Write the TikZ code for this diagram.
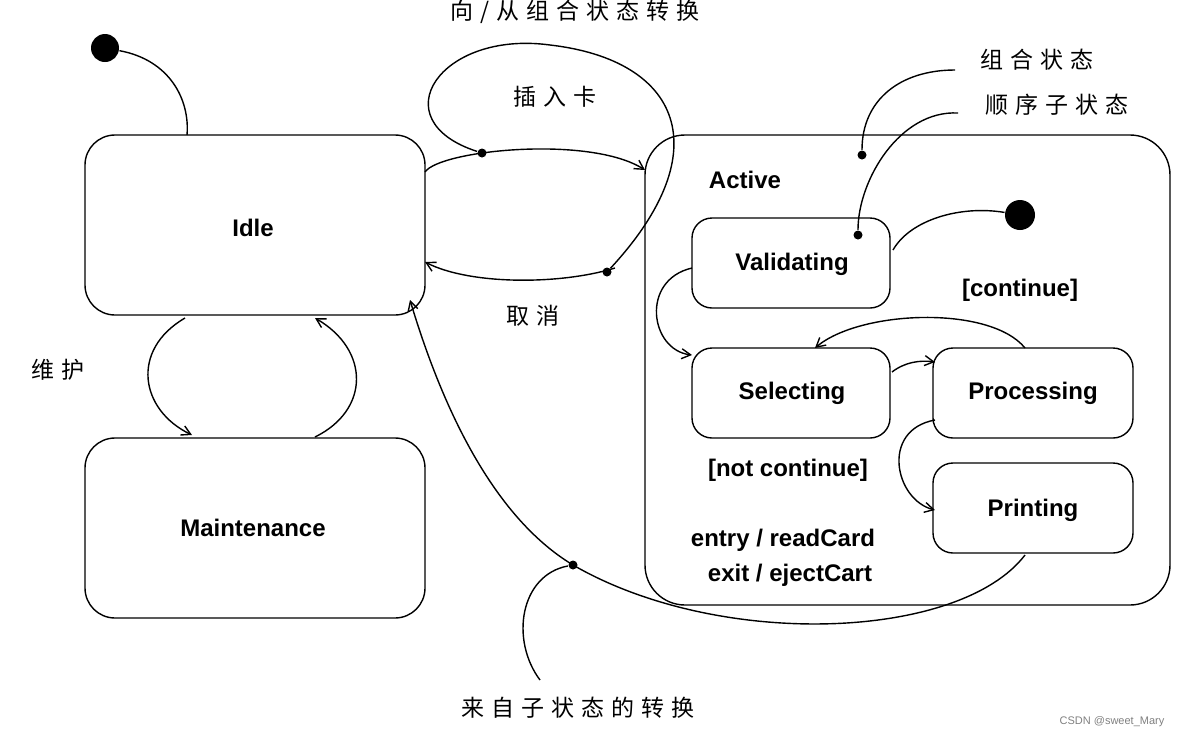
\documentclass[tikz,border=0pt]{standalone}
\usepackage{fontspec}
\setmainfont{Liberation Sans}
\newfontfamily\cjk{Noto Sans CJK SC}[LetterSpace=30]
\usetikzlibrary{arrows.meta}
\begin{document}
\begin{tikzpicture}[x=1pt,y=-1pt,line width=1.4pt,
  st/.style={draw,rounded corners=30pt},
  lbl/.style={font=\bfseries\fontsize{24}{26}\selectfont},
  cn/.style={font=\cjk\fontsize{23}{25}\selectfont},
  arr/.style={-{Straight Barb[length=9pt,width=10pt]}},
  dot/.style={circle,fill,inner sep=0pt,minimum size=#1}]
\useasboundingbox (0,0) rectangle (1200,740);
% states
\draw[st] (85,135) rectangle (425,315); \node[lbl] (idle) at (253,228) {Idle};
\draw[st] (85,438) rectangle (425,618); \node[lbl] (mnt) at (253,528) {Maintenance};
\draw[st,rounded corners=40pt] (645,135) rectangle (1170,605);
\node[lbl] (act) at (745,180) {Active};
\draw[st,rounded corners=20pt] (692,218) rectangle (890,308); \node[lbl] (val) at (792,264) {Validating};
\draw[st,rounded corners=20pt] (692,348) rectangle (890,438); \node[lbl] (sel) at (792,393) {Selecting};
\draw[st,rounded corners=20pt] (933,348) rectangle (1133,438); \node[lbl] (pro) at (1033,393) {Processing};
\draw[st,rounded corners=20pt] (933,463) rectangle (1133,553); \node[lbl] (pri) at (1033,510) {Printing};
\node[lbl] (en) at (783,540) {entry / readCard};
\node[lbl] (ex) at (790,575) {exit / ejectCart};
\node[lbl] (c1) at (1020,290) {[continue]};
\node[lbl] (c2) at (788,470) {[not continue]};
% initial states
\node[dot=28pt] (i1) at (105,48) {};
\node[dot=30pt] (i2) at (1020,215) {};
\draw (i1) .. controls (170,60) and (190,100) .. (187,135);
\draw (i2) .. controls (960,205) and (910,220) .. (893,250);
% idle <-> active
\node[dot=9pt] (d1) at (482,153) {};
\node[dot=9pt] (d2) at (607,272) {};
\draw[arr] (425,172) .. controls (440,150) and (590,135) .. (645,170);
\draw[arr] (615,268) .. controls (560,285) and (470,285) .. (425,262);
\draw (d1) .. controls (380,120) and (440,30) .. (550,45) .. controls (680,60) and (720,150) .. (d2);
\node[cn] at (575,12) {向/从组合状态转换};
\node[cn] at (555,97) {插入卡};
\node[cn] at (533,316) {取消};
% idle <-> maintenance
\draw[arr] (185,318) .. controls (130,350) and (140,410) .. (192,435);
\draw[arr] (315,437) .. controls (370,410) and (370,350) .. (315,318);
\node[cn] at (58,370) {维护};
% inner transitions
\draw[arr] (692,268) .. controls (640,280) and (650,350) .. (692,355);
\draw[arr] (892,372) .. controls (905,362) and (920,360) .. (935,362);
\draw[arr] (1025,348) .. controls (990,305) and (860,310) .. (815,348);
\draw[arr] (935,420) .. controls (880,430) and (895,500) .. (935,510);
% from substate
\node[dot=9pt] (d3) at (573,565) {};
\draw[arr] (1025,555) .. controls (960,640) and (720,650) .. (d3.center) .. controls (490,515) and (440,400) .. (410,300);
\draw (d3) .. controls (520,575) and (510,640) .. (540,680);
\node[cn] at (578,708) {来自子状态的转换};
% annotations
\node[cn] (a1) at (1037,60) {组合状态};
\node[cn] (a2) at (1057,105) {顺序子状态};
\node[dot=9pt] (d4) at (862,155) {};
\node[dot=9pt] (d5) at (858,235) {};
\draw (955,70) .. controls (900,70) and (862,100) .. (d4);
\draw (958,113) .. controls (900,110) and (858,180) .. (d5);
\node[text=gray,font=\fontsize{11}{12}\selectfont] at (1112,722) {CSDN @sweet\_Mary};
\end{tikzpicture}
\end{document}
